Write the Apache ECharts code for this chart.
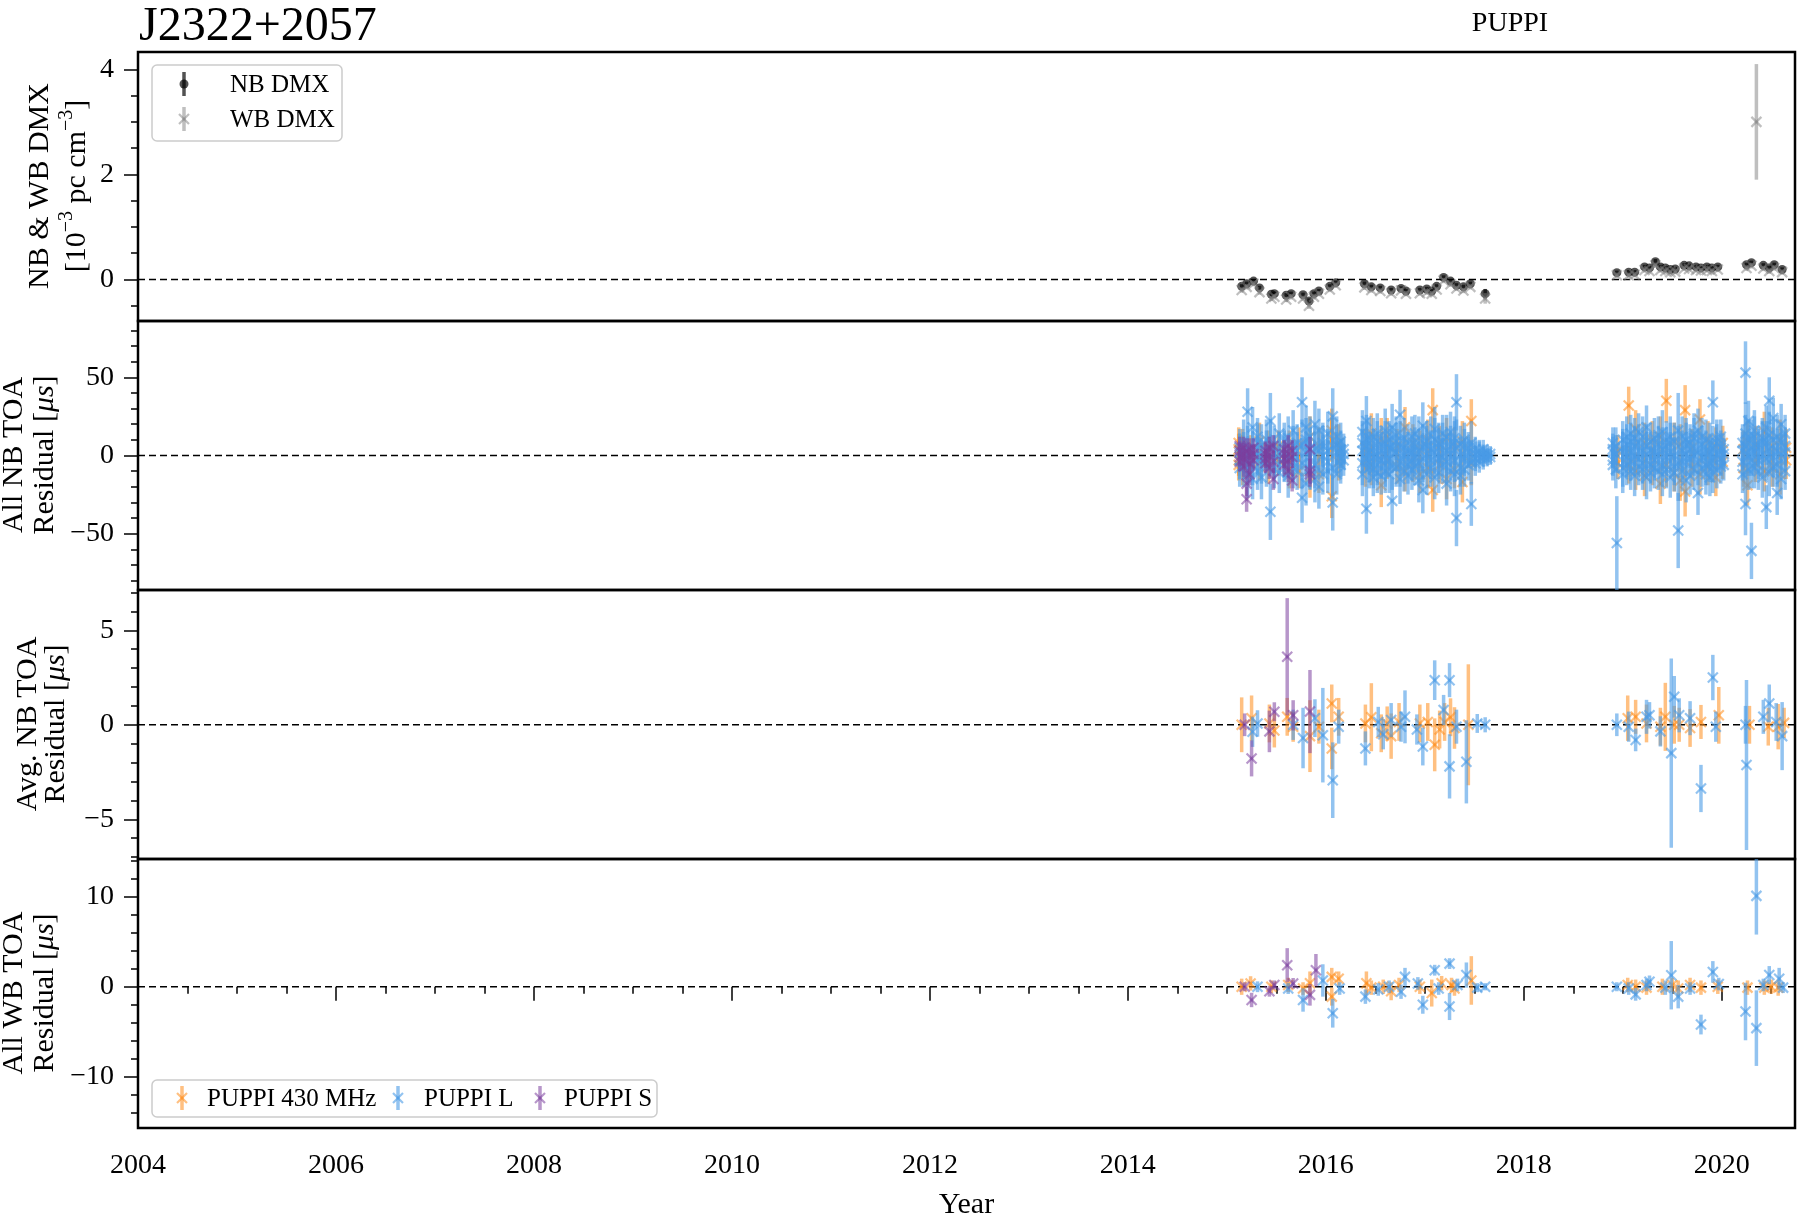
<!DOCTYPE html>
<html><head><meta charset="utf-8">
<script src="https://cdn.jsdelivr.net/npm/echarts@6/dist/echarts.min.js"></script>
<style>html,body{margin:0;padding:0;background:#fff}#c{width:1800px;height:1216px}</style>
</head><body><div id="c"></div>
<script>
// ---------- axes / ticks ----------
const xMin = 2004, xMax = 2020.74;
const xMajorTicks = [2004, 2006, 2008, 2010, 2012, 2014, 2016, 2018, 2020];
const xMinorTicks = [2004.5,2005,2005.5,2006.5,2007,2007.5,2008.5,2009,2009.5,2010.5,2011,2011.5,2012.5,2013,2013.5,2014.5,2015,2015.5,2016.5,2017,2017.5,2018.5,2019,2019.5,2020.5];
const yRanges = [[-0.79, 4.33], [-86, 86], [-7.1, 7.13], [-15.7, 14.2]];
const yMajorTicks = [[0, 2, 4], [-50, 0, 50], [-5, 0, 5], [-10, 0, 10]];
const yMinorTicks = [
  [-0.5, 0.5, 1, 1.5, 2.5, 3, 3.5],
  [-80, -70, -60, -40, -30, -20, -10, 10, 20, 30, 40, 60, 70, 80],
  [-7, -6, -4, -3, -2, -1, 1, 2, 3, 4, 6, 7],
  [-14, -12, -8, -6, -4, -2, 2, 4, 6, 8, 12, 14]
];
const zeroLine = [[xMin, 0], [xMax, 0]];

// ---------- panel 1: DMX [year, value, err] ----------
const nbDMX = [
  [2015.15,-0.13,0.04],[2015.20,-0.08,0.04],[2015.27,-0.03,0.04],[2015.33,-0.16,0.04],[2015.45,-0.28,0.04],[2015.48,-0.27,0.04],
  [2015.60,-0.30,0.04],[2015.65,-0.27,0.04],[2015.77,-0.29,0.04],[2015.83,-0.41,0.05],[2015.88,-0.27,0.04],[2015.93,-0.22,0.04],
  [2016.04,-0.13,0.04],[2016.10,-0.06,0.04],
  [2016.39,-0.08,0.04],[2016.46,-0.14,0.04],[2016.55,-0.16,0.04],[2016.66,-0.20,0.04],[2016.76,-0.17,0.04],[2016.81,-0.22,0.04],
  [2016.95,-0.20,0.04],[2017.02,-0.18,0.04],[2017.07,-0.22,0.04],[2017.12,-0.13,0.04],[2017.19,0.04,0.04],[2017.26,-0.03,0.04],
  [2017.32,-0.11,0.04],[2017.39,-0.14,0.04],[2017.46,-0.08,0.04],[2017.61,-0.27,0.09],
  [2018.94,0.13,0.04],[2019.06,0.14,0.04],[2019.12,0.14,0.04],[2019.22,0.24,0.04],[2019.27,0.22,0.04],[2019.33,0.34,0.05],
  [2019.38,0.24,0.04],[2019.43,0.22,0.04],[2019.48,0.19,0.04],[2019.53,0.20,0.04],[2019.62,0.27,0.04],[2019.67,0.26,0.04],
  [2019.74,0.24,0.04],[2019.79,0.22,0.04],[2019.85,0.24,0.04],[2019.90,0.22,0.04],[2019.96,0.24,0.04],
  [2020.25,0.28,0.04],[2020.30,0.32,0.04],[2020.42,0.27,0.04],[2020.48,0.22,0.04],[2020.53,0.28,0.04],[2020.61,0.19,0.04]
];
const wbDMX = [
  [2015.15,-0.20,0.05],[2015.20,-0.14,0.05],[2015.27,-0.08,0.05],[2015.33,-0.24,0.05],[2015.45,-0.36,0.05],[2015.48,-0.33,0.05],
  [2015.60,-0.38,0.05],[2015.65,-0.33,0.05],[2015.77,-0.36,0.05],[2015.83,-0.50,0.06],[2015.88,-0.33,0.05],[2015.93,-0.27,0.05],
  [2016.04,-0.19,0.05],[2016.10,-0.11,0.05],
  [2016.39,-0.15,0.05],[2016.46,-0.20,0.05],[2016.55,-0.22,0.05],[2016.66,-0.26,0.05],[2016.76,-0.21,0.05],[2016.81,-0.27,0.05],
  [2016.95,-0.26,0.05],[2017.02,-0.24,0.05],[2017.07,-0.27,0.05],[2017.12,-0.19,0.05],[2017.19,-0.02,0.05],[2017.26,-0.09,0.05],
  [2017.32,-0.17,0.05],[2017.39,-0.21,0.05],[2017.46,-0.14,0.05],[2017.61,-0.36,0.10],
  [2018.94,0.08,0.05],[2019.06,0.08,0.05],[2019.12,0.09,0.05],[2019.22,0.18,0.05],[2019.27,0.16,0.05],[2019.33,0.27,0.05],
  [2019.38,0.18,0.05],[2019.43,0.16,0.05],[2019.48,0.14,0.05],[2019.53,0.15,0.05],[2019.62,0.21,0.05],[2019.67,0.20,0.05],
  [2019.74,0.18,0.05],[2019.79,0.17,0.05],[2019.85,0.18,0.05],[2019.90,0.16,0.05],[2019.96,0.19,0.05],
  [2020.25,0.22,0.05],[2020.30,0.26,0.05],[2020.35,3.0,1.1],[2020.42,0.21,0.05],[2020.48,0.16,0.05],[2020.53,0.22,0.05],[2020.61,0.14,0.05]
];

// ---------- panel 2: all NB TOA residuals, per epoch [year, err, values...] ----------
const nb430 = [
  [2015.12,10,4,-3,8,-6],[2015.16,11,-8,6,2],[2015.24,10,3,-5],[2015.33,12,9,-4],[2015.42,11,-7,5],[2015.52,10,6,-3],
  [2015.63,12,-9,4],[2015.73,11,7,-10],[2015.84,13,12,-14],[2015.93,12,-12,6],[2016.06,14,-26,10,16],[2016.13,12,8,-4],
  [2016.40,12,5,-8],[2016.46,13,14,-6],[2016.56,14,-19,10],[2016.62,12,12,-3],[2016.72,11,-7,6],[2016.80,13,18,-10],
  [2016.88,12,8,-5],[2016.95,12,-12,4],[2017.03,13,10,-8],[2017.08,14,29,-22],[2017.15,12,-6,7],[2017.22,13,11,-15],
  [2017.30,12,6,-9],[2017.38,13,-17,9],[2017.47,14,22,-5],
  [2018.95,10,3,-5],[2019.06,12,32,-6],[2019.13,12,17,-10],[2019.22,13,8,-13],[2019.30,12,-7,10],[2019.38,13,12,-18],
  [2019.44,14,35,-6],[2019.52,12,9,-11],[2019.58,13,-16,7],[2019.63,16,29,-23],[2019.70,12,-8,5],[2019.78,13,23,-12],
  [2019.86,12,10,-7],[2019.94,12,6,-14],[2020.01,11,-4,8],
  [2020.22,12,4,-8],[2020.26,13,-19,9],[2020.34,12,7,-5],[2020.43,13,15,-10],[2020.51,12,-8,6],[2020.59,13,10,-12],[2020.65,12,5,-3]
];
const nbL = [
  [2015.13,12,5,-8,2,-3],[2015.17,14,-6,9,1],[2015.21,15,28,-12,4,-2],[2015.26,13,18,-15,3,-6],[2015.31,12,8,-10,0,12],
  [2015.35,14,-4,6,-14],[2015.40,13,10,-7,3],[2015.44,18,22,-36,5],[2015.48,12,-9,7,1,-3],[2015.53,13,14,-11,2],
  [2015.58,12,-5,9,-2,4],[2015.62,14,11,-13,0],[2015.67,13,6,-8,16,-4],[2015.71,12,-10,3,8],[2015.76,16,34,-27,7,-5],
  [2015.80,14,18,-18,2,10],[2015.84,13,12,-9,-1,5],[2015.89,15,20,-15,4,-6],[2015.93,14,16,-20,3],[2015.97,13,8,-12,0,6],
  [2016.02,14,14,-10,3,-4],[2016.07,18,25,-30,6,-8],[2016.11,13,12,-12,2,7],[2016.15,12,9,-6,-2,4],[2016.18,10,4,-3,1],
  [2016.37,14,8,-12,3,-5,15],[2016.41,16,22,-34,6,-2,10],[2016.44,13,-8,11,2,-4],[2016.48,12,12,-9,5,-1,-14],
  [2016.52,13,-6,9,0,14,-11],[2016.56,12,7,-13,3,-3],[2016.60,14,16,-10,1,-6,8],[2016.64,12,-12,5,10,-2],
  [2016.67,15,18,-29,4,-7],[2016.71,12,9,-8,2,13],[2016.75,16,26,-15,6,-4],[2016.79,13,-10,11,0,5],[2016.83,12,8,-6,-13,3],
  [2016.87,13,12,-9,2,-3],[2016.90,12,-7,6,14,-1],[2016.94,14,11,-16,3,-5],[2016.98,15,19,-22,5,-2],[2017.02,13,-12,9,1,6],
  [2017.06,12,13,-8,-3,4],[2017.10,14,10,-14,2,17],[2017.14,13,-11,8,-2,5],[2017.18,12,9,-6,14,-1],[2017.22,14,-18,12,3,-4],
  [2017.26,13,15,-10,1,6],[2017.30,14,11,-12,-3,8],[2017.32,18,34,-40,5],[2017.36,12,-8,7,0,-13],[2017.40,11,6,-9,10,-2],
  [2017.44,10,-6,5,2],[2017.47,14,-31,8,-4],[2017.51,8,4,-5,1,-2],[2017.55,7,3,-4,2],[2017.59,6,-3,4,1,-1],[2017.63,5,2,-2,0],[2017.66,5,1,-1],
  [2018.90,10,4,-6,2,8,-3],[2018.93,12,-9,6,1],[2018.94,30,-56],[2019.00,12,10,-8,3,-12,5],[2019.04,13,-6,12,-1,7],
  [2019.08,12,9,-10,2,-4,14],[2019.12,13,-13,6,0,11],[2019.16,12,8,-7,15,-2],[2019.20,13,-9,12,3,-5],[2019.24,14,18,-14,1,6],
  [2019.28,12,-6,9,-11,3],[2019.32,13,11,-8,2,-3],[2019.36,12,-10,7,13,0],[2019.40,14,15,-12,4,-6],[2019.44,12,6,-9,-1,10],
  [2019.48,13,-14,8,2,12],[2019.52,12,9,-7,0,-11],[2019.56,24,-48,16,-5],[2019.60,13,12,-10,3,-4],[2019.64,14,-16,10,1,7],
  [2019.68,12,8,-13,4,-2],[2019.72,13,-9,11,0,14],[2019.76,14,16,-24,2,-5],[2019.80,12,-8,7,12,-1],[2019.84,13,10,-12,3,-6],
  [2019.88,12,-5,9,-14,2],[2019.91,14,34,-10,5,-3],[2019.95,12,8,-9,1,11],[2019.99,11,-7,5,12,-2],[2020.02,10,4,-6,1],
  [2020.21,12,8,-12,3,-4],[2020.24,20,53,-31,6,14],[2020.27,13,-9,10,0,22],[2020.30,18,-61,5,-3],[2020.33,13,12,-8,2,16],
  [2020.37,12,-10,7,-3,5],[2020.41,13,9,-14,1,11],[2020.45,14,-33,8,-2,18],[2020.48,15,35,-11,4,13],[2020.52,13,-7,10,-1,24],
  [2020.56,14,12,-24,3,-6],[2020.60,13,-15,8,20,1],[2020.64,12,6,-10,2,14]
];
const nbS = [
  [2015.13,6,3,-4,6,-1],[2015.17,7,-7,5,-2,1],[2015.20,8,-18,-28,3],[2015.23,7,4,-5,0,-12],[2015.27,6,-3,5,1],
  [2015.39,6,3,-5,1,-2],[2015.43,7,-8,5,0],[2015.47,7,6,-4,-15],
  [2015.58,6,4,-6,1,-2],[2015.62,7,-3,6,-10],[2015.66,7,-16,3,-1],
  [2015.84,8,4,-10,-12]
];

// ---------- panel 3: averaged NB residuals [year, value, err] ----------
const avg430 = [
  [2015.15,0,1.45],[2015.25,0.35,1.2],[2015.43,0.07,1.0],[2015.48,-0.3,0.9],[2015.61,0.42,1.0],[2015.67,-0.1,0.8],
  [2015.84,-0.6,1.9],[2015.93,-0.1,0.9],[2016.06,1.13,1.0],[2016.06,-1.25,1.1],[2016.13,0.42,1.0],
  [2016.40,0.07,1.0],[2016.46,0.4,1.8],[2016.56,-0.45,1.0],[2016.62,0.07,0.9],[2016.66,-0.6,1.2],[2016.74,0.15,1.0],
  [2016.95,0.07,1.0],[2017.03,0.15,1.0],[2017.10,-1.06,1.4],[2017.15,-0.25,1.0],[2017.20,0.15,1.0],[2017.26,0.4,1.0],
  [2017.30,-0.17,1.1],[2017.44,0.0,3.2],
  [2019.05,0.35,1.2],[2019.13,0.42,0.9],[2019.24,0.07,1.0],[2019.38,-0.1,1.0],[2019.43,0.42,1.8],[2019.52,0.0,1.0],
  [2019.57,0.0,0.9],[2019.68,-0.17,1.0],[2019.79,0.15,0.9],[2019.97,0.5,1.5],
  [2020.28,0.0,1.0],[2020.47,-0.1,1.0],[2020.57,-0.1,1.2],[2020.63,0.1,0.8]
];
const avgL = [
  [2015.26,-0.37,0.8],[2015.31,0.07,0.7],[2015.67,0.0,0.8],[2015.77,-0.7,1.6],[2015.89,0.35,1.0],[2015.97,-0.55,2.5],
  [2016.07,-2.93,2.0],[2016.13,-0.1,0.9],
  [2016.40,-1.25,0.9],[2016.53,0.15,0.8],[2016.58,-0.5,0.8],[2016.66,0.25,0.9],[2016.76,-0.1,0.8],[2016.80,0.42,1.4],
  [2016.92,-0.25,0.8],[2016.98,-1.15,1.0],[2017.10,2.36,1.05],[2017.19,0.78,0.8],[2017.25,2.36,0.9],[2017.25,-2.2,1.7],
  [2017.32,-0.1,0.9],[2017.42,-1.96,2.2],[2017.53,0.07,0.5],[2017.61,0.0,0.4],
  [2018.94,0.0,0.6],[2019.06,-0.1,0.8],[2019.13,-0.8,0.6],[2019.24,0.42,0.9],[2019.27,0.5,0.7],[2019.38,-0.35,0.8],
  [2019.49,-1.5,5.0],[2019.52,1.48,1.1],[2019.57,0.5,0.9],[2019.68,0.35,0.9],[2019.79,-3.37,1.25],[2019.91,2.5,1.2],
  [2019.94,-0.1,0.8],
  [2020.24,0.0,1.0],[2020.25,-2.13,4.5],[2020.42,0.42,0.9],[2020.48,1.13,1.0],[2020.55,0.15,1.0],[2020.61,-0.6,1.8]
];
const avgS = [
  [2015.18,0,0.6],[2015.25,-1.78,0.95],[2015.43,-0.35,1.1],[2015.48,0.69,0.5],[2015.61,3.6,3.1],[2015.67,0.5,0.8],[2015.84,0.7,2.2]
];

// ---------- panel 4: WB residuals [year, value, err] ----------
const wb430 = [
  [2015.15,0,0.9],[2015.24,0.37,0.8],[2015.45,0,0.7],[2015.62,0.2,0.8],[2015.77,-0.2,0.7],[2015.84,0.4,1.3],
  [2016.06,1.1,1.0],[2016.06,-1.1,1.0],[2016.13,0.9,0.8],[2016.41,0.4,1.3],[2016.46,-0.1,0.8],[2016.58,0,0.8],
  [2016.66,-0.5,1.0],[2016.74,0.2,0.8],[2016.95,0,0.8],[2017.07,-0.7,1.5],[2017.17,0.4,0.8],[2017.27,0.2,0.8],
  [2017.30,-0.2,0.8],[2017.47,0.7,2.7],
  [2019.05,0.2,0.8],[2019.13,0,0.8],[2019.24,-0.1,0.8],[2019.40,0,0.9],[2019.50,0.2,0.8],[2019.56,-0.2,0.9],
  [2019.68,0.2,0.8],[2019.79,-0.1,0.8],[2019.96,0,0.8],[2020.26,-0.1,0.8],[2020.43,-0.1,0.8],[2020.50,0,0.8],[2020.57,-0.1,0.9]
];
const wbL = [
  [2015.31,0,0.6],[2015.62,-0.2,0.6],[2015.77,-1.47,1.3],[2015.97,0.7,1.8],[2016.07,-2.94,1.6],[2016.14,-0.2,0.7],
  [2016.40,-1.1,0.8],[2016.53,-0.3,0.7],[2016.64,0,0.7],[2016.76,-0.55,0.8],[2016.80,1.1,1.0],[2016.93,0.37,0.7],
  [2016.98,-2.0,1.0],[2017.10,1.84,0.6],[2017.14,-0.2,0.7],[2017.25,2.57,0.6],[2017.25,-2.2,1.5],[2017.33,0.2,0.7],
  [2017.42,1.3,1.4],[2017.53,-0.1,0.5],[2017.61,0,0.4],
  [2018.94,0,0.5],[2019.06,-0.2,0.7],[2019.13,-0.85,0.7],[2019.24,0.2,0.7],[2019.27,0.55,0.7],[2019.43,-0.1,0.8],
  [2019.49,1.28,3.8],[2019.56,-1.1,1.3],[2019.68,-0.2,0.7],[2019.79,-4.2,1.1],[2019.91,1.65,1.2],[2019.97,0.3,0.7],
  [2020.24,-2.75,3.2],[2020.35,10.1,4.3],[2020.35,-4.6,4.2],[2020.42,0.2,0.7],[2020.48,1.3,1.0],[2020.58,0.9,1.2],[2020.62,-0.1,0.6]
];
const wbS = [
  [2015.18,0,0.5],[2015.25,-1.47,0.8],[2015.43,-0.5,0.6],[2015.48,0.2,0.5],[2015.61,2.39,1.9],[2015.67,0.37,0.6],
  [2015.84,-0.9,1.2],[2015.90,1.84,1.8]
];

// ---------- styling ----------
const FONT = "'Liberation Serif', 'DejaVu Serif', 'Times New Roman', serif";
const C430 = 'rgba(255,140,26,0.55)';
const CL = 'rgba(74,155,230,0.6)';
const CS = 'rgba(123,63,158,0.55)';
const CNB = 'rgba(0,0,0,0.68)';
const CWB = 'rgba(128,128,128,0.5)';
const gridTops = [52, 321, 590, 859];
const gridH = 269;
const minusFmt = v => String(v).replace('-', '\u2212');

function fromEpochs(groups) {
  const out = [];
  groups.forEach(g => { for (let i = 2; i < g.length; i++) out.push([g[0], g[i], g[1]]); });
  return out;
}

function markerEls(cx, cy, color, marker, z) {
  const els = [];
  if (marker === 'o') {
    els.push({ type: 'circle', z, shape: { cx, cy, r: 4.5 }, style: { fill: color } });
  } else {
    const s = 5;
    els.push({ type: 'line', z, shape: { x1: cx-s, y1: cy-s, x2: cx+s, y2: cy+s }, style: { stroke: color, lineWidth: 2.2 } });
    els.push({ type: 'line', z, shape: { x1: cx-s, y1: cy+s, x2: cx+s, y2: cy-s }, style: { stroke: color, lineWidth: 2.2 } });
  }
  return els;
}

function errSeries(name, data, gi, color, marker, z) {
  return {
    type: 'custom', name, coordinateSystem: 'cartesian2d', xAxisIndex: gi, yAxisIndex: gi,
    clip: true, z, data, encode: { x: 0, y: 1 }, silent: true,
    renderItem(params, api) {
      const x = api.value(0), y = api.value(1), e = api.value(2);
      const p = api.coord([x, y]);
      const t = api.coord([x, y + e]);
      const b = api.coord([x, y - e]);
      const ch = [{ type: 'line', shape: { x1: p[0], y1: t[1], x2: p[0], y2: b[1] },
        style: { stroke: color, lineWidth: 3.5 } }].concat(markerEls(p[0], p[1], color, marker));
      return { type: 'group', children: ch };
    }
  };
}

const grids = gridTops.map(t => ({ left: 138, right: 5, top: t, height: gridH, show: true,
  outerBoundsMode: 'none', containLabel: false,
  borderColor: '#000', borderWidth: 2.5, backgroundColor: 'rgba(0,0,0,0)' }));

const tickLine = { color: '#000', width: 1.5 };
const xAxes = gridTops.map((t, i) => {
  const last = i === 3;
  return {
    type: 'value', gridIndex: i, min: xMin, max: xMax,
    axisLine: { show: false }, splitLine: { show: false },
    axisTick: { show: last, length: 14, customValues: xMajorTicks, lineStyle: tickLine },
    axisLabel: { show: last, customValues: xMajorTicks, formatter: v => String(v), fontFamily: FONT, fontSize: 28, color: '#000', margin: 24 },
    name: last ? 'Year' : '', nameLocation: 'middle', nameGap: 62,
    nameTextStyle: { fontFamily: FONT, fontSize: 30, color: '#000' }
  };
});
xAxes.push({
  type: 'value', gridIndex: 3, min: xMin, max: xMax, position: 'bottom',
  axisLine: { show: false }, splitLine: { show: false }, axisLabel: { show: false },
  axisTick: { show: true, length: 7, customValues: xMinorTicks, lineStyle: tickLine }
});

const yAxes = [];
yRanges.forEach((r, i) => {
  yAxes.push({
    type: 'value', gridIndex: i, min: r[0], max: r[1], position: 'left',
    axisLine: { show: false }, splitLine: { show: false },
    axisTick: { show: true, length: 14, customValues: yMajorTicks[i], lineStyle: tickLine },
    axisLabel: { customValues: yMajorTicks[i], formatter: minusFmt, fontFamily: FONT, fontSize: 28, color: '#000', margin: 24 }
  });
});
yRanges.forEach((r, i) => {
  yAxes.push({
    type: 'value', gridIndex: i, min: r[0], max: r[1], position: 'left',
    axisLine: { show: false }, splitLine: { show: false }, axisLabel: { show: false },
    axisTick: { show: true, length: 7, customValues: yMinorTicks[i], lineStyle: tickLine }
  });
});

const series = [];
for (let i = 0; i < 4; i++) {
  series.push({ type: 'line', name: 'zero' + i, xAxisIndex: i, yAxisIndex: i, data: zeroLine, symbol: 'none',
    silent: true, z: 1, lineStyle: { color: '#000', width: 1.6, type: [7, 4] } });
}
series.push(errSeries('NB DMX', nbDMX, 0, CNB, 'o', 3));
series.push(errSeries('WB DMX', wbDMX, 0, CWB, 'x', 4));
series.push(errSeries('PUPPI 430 MHz', fromEpochs(nb430), 1, C430, 'x', 3));
series.push(errSeries('PUPPI L', fromEpochs(nbL), 1, CL, 'x', 4));
series.push(errSeries('PUPPI S', fromEpochs(nbS), 1, CS, 'x', 5));
series.push(errSeries('PUPPI 430 MHz', avg430, 2, C430, 'x', 3));
series.push(errSeries('PUPPI L', avgL, 2, CL, 'x', 4));
series.push(errSeries('PUPPI S', avgS, 2, CS, 'x', 5));
series.push(errSeries('PUPPI 430 MHz', wb430, 3, C430, 'x', 3));
series.push(errSeries('PUPPI L', wbL, 3, CL, 'x', 4));
series.push(errSeries('PUPPI S', wbS, 3, CS, 'x', 5));

// ---------- graphic texts / legends ----------
const richN = { fontFamily: FONT, fontSize: 30, fill: '#000', lineHeight: 40 };
const richI = { fontFamily: FONT, fontSize: 30, fill: '#000', fontStyle: 'italic', lineHeight: 40 };
const richS = { fontFamily: FONT, fontSize: 20, fill: '#000', verticalAlign: 'top' };
function vText(x, y, text, rich) {
  const st = { text, align: 'center', verticalAlign: 'middle', textAlign: 'center', textVerticalAlign: 'middle',
    fontFamily: FONT, fontSize: 30, fill: '#000' };
  if (rich) st.rich = rich;
  return { type: 'text', x, y, rotation: Math.PI / 2, style: st, z: 10 };
}
const resid = '{n|Residual [}{i|\u03bcs}{n|]}';
const residRich = { n: richN, i: richI };
const yLabelTexts = [
  [40, 186, 'NB & WB DMX', null],
  [77, 186, '{n|[10}{s|\u22123}{n| pc cm}{s|\u22123}{n|]}', { n: richN, s: richS }],
  [14, 455, 'All NB TOA', null], [45, 455, resid, residRich],
  [28, 724, 'Avg. NB TOA', null], [56, 724, resid, residRich],
  [14, 993, 'All WB TOA', null], [45, 993, resid, residRich]
];

function legIcon(cx, cy, color, marker) {
  return [{ type: 'line', z: 21, shape: { x1: cx, y1: cy - 12, x2: cx, y2: cy + 12 }, style: { stroke: color, lineWidth: 3.5 } }]
    .concat(markerEls(cx, cy, color, marker, 21));
}
function legText(x, y, text) {
  return { type: 'text', x, y, z: 21, style: { text, fontFamily: FONT, fontSize: 25, fill: '#000',
    align: 'left', verticalAlign: 'middle', textAlign: 'left', textVerticalAlign: 'middle' } };
}
const legendBox = (x, y, w, h) => ({ type: 'rect', z: 20, shape: { x, y, width: w, height: h, r: 5 },
  style: { fill: 'rgba(255,255,255,0.85)', stroke: '#cccccc', lineWidth: 1.5 } });

const graphic = [
  { type: 'text', x: 1510, y: 24, z: 10, style: { text: 'PUPPI', fontFamily: FONT, fontSize: 28, fill: '#000',
    align: 'center', verticalAlign: 'middle', textAlign: 'center', textVerticalAlign: 'middle' } },
  ...yLabelTexts.map(a => vText(a[0], a[1], a[2], a[3])),
  legendBox(152, 65, 190, 76),
  ...legIcon(184, 84, CNB, 'o'), legText(230, 85, 'NB DMX'),
  ...legIcon(184, 119, CWB, 'x'), legText(230, 120, 'WB DMX'),
  legendBox(152, 1080, 505, 37),
  ...legIcon(182, 1098, C430, 'x'), legText(207, 1099, 'PUPPI 430 MHz'),
  ...legIcon(398, 1098, CL, 'x'), legText(424, 1099, 'PUPPI L'),
  ...legIcon(540, 1098, CS, 'x'), legText(564, 1099, 'PUPPI S')
];

const chart = echarts.init(document.getElementById('c'), null, { renderer: 'canvas' });
chart.setOption({
  animation: false,
  backgroundColor: '#fff',
  title: { text: 'J2322+2057', left: 134, top: -2, textStyle: { fontFamily: FONT, fontSize: 48, fontWeight: 'normal', color: '#000' } },
  grid: grids, xAxis: xAxes, yAxis: yAxes, series, graphic
});
</script>
</body></html>
